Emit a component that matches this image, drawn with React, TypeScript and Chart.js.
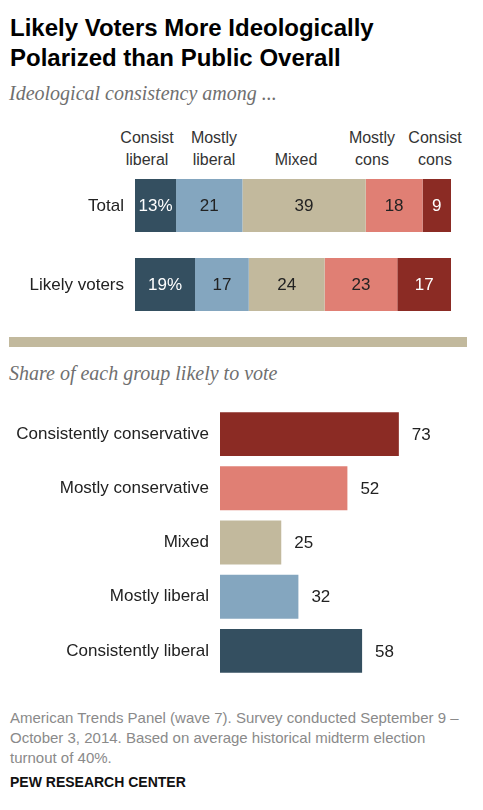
import React, { useEffect, useRef } from "react";
import { Chart, registerables } from "chart.js";

Chart.register(...registerables);

// ---- data ----
const rowLabels = ["Total", "Likely voters"];
const segmentNames = ["Consist liberal", "Mostly liberal", "Mixed", "Mostly cons", "Consist cons"];
const headerLines = [
  ["Consist", "liberal"],
  ["Mostly", "liberal"],
  ["", "Mixed"],
  ["Mostly", "cons"],
  ["Consist", "cons"],
];
const consistLiberal = [13, 19];
const mostlyLiberal = [21, 17];
const mixed = [39, 24];
const mostlyCons = [18, 23];
const consistCons = [9, 17];

const groups = [
  "Consistently conservative",
  "Mostly conservative",
  "Mixed",
  "Mostly liberal",
  "Consistently liberal",
];
const likelyToVote = [73, 52, 25, 32, 58];

// ---- styles ----
const COLORS = ["#344f60", "#84a6bf", "#c2b99d", "#e07f74", "#8b2b24"];
const LABEL_COLORS = ["#ffffff", "#222222", "#222222", "#222222", "#ffffff"];
const groupColors = ["#8b2b24", "#e07f74", "#c2b99d", "#84a6bf", "#344f60"];
const headerCenters = [147, 214, 296, 372, 435];
const FONT = "'Liberation Sans', Arial, sans-serif";

const stackedPlugin = {
  id: "stackedLabels",
  afterDatasetsDraw(chart: any) {
    const ctx = chart.ctx;
    ctx.save();
    ctx.font = `17px ${FONT}`;
    ctx.textBaseline = "middle";
    chart.data.datasets.forEach((ds: any, di: number) => {
      const meta = chart.getDatasetMeta(di);
      meta.data.forEach((el: any, i: number) => {
        const p = el.getProps(["x", "base", "y"], true);
        const v = ds.data[i];
        ctx.fillStyle = LABEL_COLORS[di];
        ctx.textAlign = "center";
        ctx.fillText(di === 0 ? `${v}%` : `${v}`, (p.x + p.base) / 2, p.y + 1);
      });
    });
    const yScale = chart.scales.y;
    ctx.font = `17px ${FONT}`;
    ctx.fillStyle = "#222222";
    ctx.textAlign = "right";
    chart.data.labels.forEach((lab: string, i: number) => {
      ctx.fillText(lab, chart.chartArea.left - 11, yScale.getPixelForValue(i) + 1);
    });
    ctx.restore();
  },
};

const barPlugin = {
  id: "barLabels",
  afterDatasetsDraw(chart: any) {
    const ctx = chart.ctx;
    ctx.save();
    ctx.textBaseline = "middle";
    const meta = chart.getDatasetMeta(0);
    const ds = chart.data.datasets[0];
    meta.data.forEach((el: any, i: number) => {
      const p = el.getProps(["x", "y"], true);
      ctx.font = `17px ${FONT}`;
      ctx.fillStyle = "#222222";
      ctx.textAlign = "left";
      ctx.fillText(`${ds.data[i]}`, p.x + 13, p.y + 1);
      ctx.font = `17px ${FONT}`;
      ctx.textAlign = "right";
      ctx.fillText(chart.data.labels[i], chart.chartArea.left - 11, p.y);
    });
    ctx.restore();
  },
};

export default function App() {
  const topRef = useRef<HTMLCanvasElement>(null);
  const botRef = useRef<HTMLCanvasElement>(null);

  useEffect(() => {
    const series = [consistLiberal, mostlyLiberal, mixed, mostlyCons, consistCons];
    const top = new Chart(topRef.current!, {
      type: "bar",
      data: {
        labels: rowLabels,
        datasets: series.map((d, i) => ({
          label: segmentNames[i],
          data: d,
          backgroundColor: COLORS[i],
          borderWidth: 0,
          barPercentage: 0.67,
          categoryPercentage: 1,
        })),
      },
      options: {
        indexAxis: "y",
        responsive: false,
        maintainAspectRatio: false,
        animation: false,
        layout: { padding: { top: 46, bottom: 6, left: 135, right: 32 } },
        scales: {
          x: { stacked: true, min: 0, max: 100, display: false },
          y: { stacked: true, display: false },
        },
        plugins: { legend: { display: false }, tooltip: { enabled: false } },
      },
      plugins: [stackedPlugin],
    });

    const bot = new Chart(botRef.current!, {
      type: "bar",
      data: {
        labels: groups,
        datasets: [
          {
            label: "Share likely to vote",
            data: likelyToVote,
            backgroundColor: groupColors,
            borderWidth: 0,
            barPercentage: 0.81,
            categoryPercentage: 1,
          },
        ],
      },
      options: {
        indexAxis: "y",
        responsive: false,
        maintainAspectRatio: false,
        animation: false,
        layout: { padding: { top: 12, bottom: 7, left: 220, right: 18 } },
        scales: {
          x: { min: 0, max: 100, display: false },
          y: { display: false },
        },
        plugins: { legend: { display: false }, tooltip: { enabled: false } },
      },
      plugins: [barPlugin],
    });

    return () => {
      top.destroy();
      bot.destroy();
    };
  }, []);

  const abs = (top: number, extra: React.CSSProperties = {}): React.CSSProperties => ({
    position: "absolute",
    top,
    left: 10,
    whiteSpace: "nowrap",
    margin: 0,
    ...extra,
  });

  return (
    <div style={{ position: "relative", width: 483, height: 810, background: "#fff", overflow: "hidden" }}>
      <style>{`body{margin:0;}`}</style>
      <div
        style={abs(13, {
          fontFamily: FONT,
          fontWeight: "bold",
          fontSize: 24,
          lineHeight: "30px",
          color: "#000",
        })}
      >
        Likely Voters More Ideologically
        <br />
        Polarized than Public Overall
      </div>
      <div
        style={abs(83, {
          left: 9,
          fontFamily: "'Liberation Serif', serif",
          fontStyle: "italic",
          fontSize: 20,
          lineHeight: "20px",
          color: "#6f6f6f",
        })}
      >
        Ideological consistency among ...
      </div>
      {headerLines.map((lines, i) => (
        <div
          key={i}
          style={{
            position: "absolute",
            top: 127,
            left: headerCenters[i],
            transform: "translateX(-50%)",
            textAlign: "center",
            fontFamily: FONT,
            fontSize: 16,
            lineHeight: "22px",
            color: "#333",
            whiteSpace: "nowrap",
          }}
        >
          {lines[0] || "\u00a0"}
          <br />
          {lines[1]}
        </div>
      ))}
      <canvas
        ref={topRef}
        width={483}
        height={210}
        style={{ position: "absolute", top: 120, left: 0, width: 483, height: 210 }}
      />
      <div
        style={{
          position: "absolute",
          top: 337,
          left: 9,
          width: 458,
          height: 10,
          background: "#c2b99d",
        }}
      />
      <div
        style={abs(363, {
          left: 9,
          fontFamily: "'Liberation Serif', serif",
          fontStyle: "italic",
          fontSize: 20,
          lineHeight: "20px",
          color: "#6f6f6f",
        })}
      >
        Share of each group likely to vote
      </div>
      <canvas
        ref={botRef}
        width={483}
        height={290}
        style={{ position: "absolute", top: 395, left: 0, width: 483, height: 290 }}
      />
      <div
        style={abs(708, {
          fontFamily: FONT,
          fontSize: 15,
          lineHeight: "20px",
          color: "#8a8a8a",
        })}
      >
        American Trends Panel (wave 7). Survey conducted September 9 –
        <br />
        October 3, 2014. Based on average historical midterm election
        <br />
        turnout of 40%.
      </div>
      <div
        style={abs(775, {
          fontFamily: FONT,
          fontWeight: "bold",
          fontSize: 14,
          lineHeight: "14px",
          color: "#111",
        })}
      >
        PEW RESEARCH CENTER
      </div>
    </div>
  );
}
